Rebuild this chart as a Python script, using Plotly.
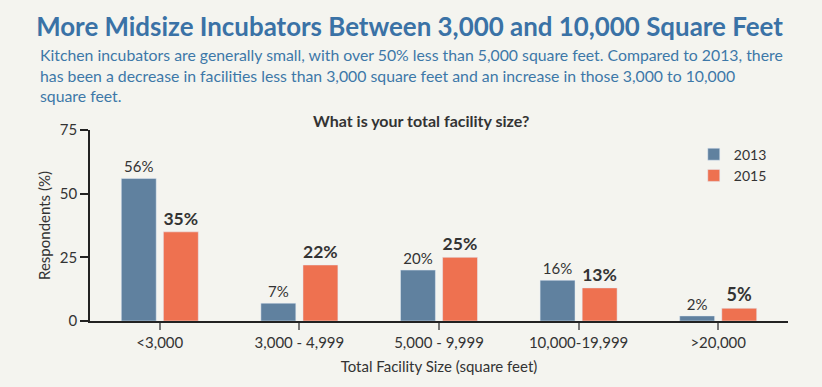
import plotly.graph_objects as go

categories = ["<3,000", "3,000 - 4,999", "5,000 - 9,999", "10,000-19,999", ">20,000"]
values_2013 = [56, 7, 20, 16, 2]
values_2015 = [35, 22, 25, 13, 5]
y_ticks = [0, 25, 50, 75]

FONT = "Lato"
BG = "#f4f4ef"
C2013 = "#60819f"
C2015 = "#ee7150"
TITLE_C = "#3a72a6"

fig = go.Figure()
fig.add_trace(go.Bar(
    name="2013", x=categories, y=values_2013, marker_color=C2013,
    texttemplate="%{y}%", textposition="outside", cliponaxis=False,
    textfont=dict(size=15, color="#333333", family=FONT),
))
fig.add_trace(go.Bar(
    name="2015", x=categories, y=values_2015, marker_color=C2015,
    texttemplate="<b>%{y}%</b>", textposition="outside", cliponaxis=False,
    textfont=dict(size=18, color="#333333", family=FONT),
))

fig.update_layout(
    width=822, height=387,
    paper_bgcolor=BG, plot_bgcolor=BG,
    margin=dict(l=90, r=34, t=130, b=66, autoexpand=False),
    barmode="group", bargap=0.397, bargroupgap=0.17,
    font=dict(family=FONT, color="#333333", size=14),
    showlegend=True,
    legend=dict(x=0.865, y=0.955, xanchor="left", yanchor="top",
                bgcolor="rgba(0,0,0,0)", font=dict(size=14, color="#333333"),
                itemwidth=30, tracegroupgap=0),
    title=dict(text="<b>More Midsize Incubators Between 3,000 and 10,000 Square Feet</b>",
               x=0.044, xanchor="left", y=1 - 27 / 387, yanchor="middle", yref="container",
               font=dict(size=25.9, color=TITLE_C, family=FONT)),
)

fig.add_annotation(
    text=("Kitchen incubators are generally small, with over 50% less than 5,000 square feet. Compared to 2013, there<br>"
          "has been a decrease in facilities less than 3,000 square feet and an increase in those 3,000 to 10,000<br>"
          "square feet."),
    xref="paper", yref="paper", x=-0.074, y=1.455, xanchor="left", yanchor="top",
    showarrow=False, align="left", font=dict(size=15.8, color="#3d78a8", family=FONT),
)
fig.add_annotation(
    text="<b>What is your total facility size?</b>",
    xref="paper", yref="paper", x=0.474, y=0.99, xanchor="center", yanchor="bottom",
    showarrow=False, font=dict(size=16, color="#333333", family=FONT),
)

fig.update_xaxes(
    automargin=False,
    showline=True, linecolor="#222222", linewidth=1.5,
    ticks="outside", ticklen=7, tickcolor="#777777", tickwidth=2,
    tickfont=dict(size=15, color="#333333"),
    title=dict(text="Total Facility Size (square feet)", font=dict(size=15, color="#333333"), standoff=12),
    showgrid=False, zeroline=False,
)
fig.update_yaxes(
    automargin=False,
    range=[0, 75], tickvals=y_ticks,
    showline=True, linecolor="#222222", linewidth=1.5,
    ticks="outside", ticklen=8, tickcolor="#222222", tickwidth=1.5,
    tickfont=dict(size=15, color="#333333"),
    title=dict(text="Respondents (%)", font=dict(size=15, color="#333333"), standoff=6),
    showgrid=False, zeroline=False,
)

fig.write_html(
    "out.html",
    config={"displayModeBar": False},
    post_script="document.body.style.margin='0';document.body.style.background='#f4f4ef';",
)
